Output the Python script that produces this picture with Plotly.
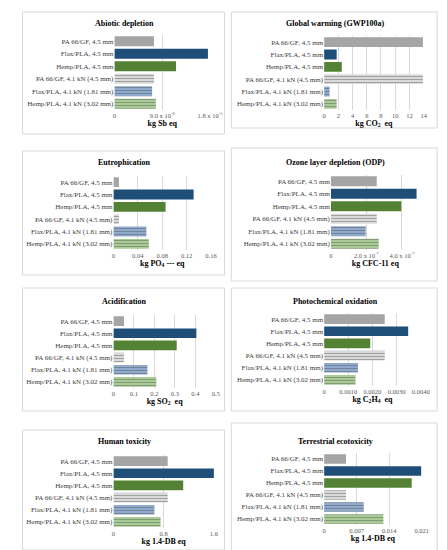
import plotly.graph_objects as go

# Categories (top to bottom)
categories = ["PA 66/GF, 4.5 mm", "Flax/PLA, 4.5 mm", "Hemp/PLA, 4.5 mm",
              "PA 66/GF, 4.1 kN (4.5 mm)", "Flax/PLA, 4.1 kN (1.81 mm)",
              "Hemp/PLA, 4.1 kN (3.02 mm)"]

# Impact values
abiotic = [7.45e-6, 1.76e-5, 1.16e-5, 7.45e-6, 7.1e-6, 7.8e-6]
gwp = [13.9, 1.77, 2.49, 13.9, 0.77, 1.77]
eutro = [0.009, 0.1315, 0.0855, 0.009, 0.054, 0.058]
odp = [2.58e-7, 4.82e-7, 3.96e-7, 2.58e-7, 1.96e-7, 2.69e-7]
acid = [0.052, 0.405, 0.309, 0.052, 0.166, 0.209]
photo = [0.00251, 0.00348, 0.00191, 0.00251, 0.0014, 0.0013]
human = [0.864, 1.6, 1.111, 0.864, 0.653, 0.751]
terr = [0.00471, 0.0209, 0.01885, 0.00471, 0.00853, 0.01275]

# Tick labels
abiotic_ticks = [0, 9.0e-6, 1.8e-5]
abiotic_labels = ["0", "9.0 x 10<sup>-6</sup>", "1.8 x 10<sup>-5</sup>"]
gwp_ticks = [0, 2, 4, 6, 8, 10, 12, 14]
eutro_ticks = [0, 0.04, 0.08, 0.12, 0.16]
odp_ticks = [0, 2.0e-7, 4.0e-7]
odp_labels = ["0", "2.0 x 10<sup>-7</sup>", "4.0 x 10<sup>-7</sup>"]
acid_ticks = [0, 0.1, 0.2, 0.3, 0.4, 0.5]
photo_ticks = [0, 0.001, 0.002, 0.003, 0.004]
photo_labels = ["0", "0.0010", "0.0020", "0.0030", "0.0040"]
human_ticks = [0, 0.8, 1.6]
terr_ticks = [0, 0.007, 0.014, 0.021]

colors = ["#A5A5A5", "#1F4E79", "#548235", "#D9D9D9", "#8FAACC", "#A9CB95"]
patterns = ["", "", "", "-", "-", "-"]

W, H = 447, 550
FONT = "Liberation Serif"


def px(x):
    return x / W


def py(y):
    return 1 - y / H


# title, unit, values, tickvals, ticktext, range, plot box, frame box, title y, title x
panels = [
    ("Abiotic depletion", "kg Sb eq", abiotic, abiotic_ticks, abiotic_labels,
     [0, 1.8e-5], (108, 207, 27, 102), (13, 4, 222, 126), 16, 118),
    ("Global warming (GWP100a)", "kg CO<sub>2</sub>  eq", gwp, gwp_ticks,
     [str(t) for t in gwp_ticks], [0, 14], (325, 428, 28, 102), (229, 4, 442, 120), 16, 337),
    ("Eutrophication", "kg PO<sub>4</sub> --- eq", eutro, eutro_ticks,
     ["0", "0.04", "0.08", "0.12", "0.16"], [0, 0.16], (107, 208, 168, 242), (13, 143, 222, 267), 155, 118),
    ("Ozone layer depletion (ODP)", "kg CFC-11 eq", odp, odp_ticks, odp_labels,
     [0, 5e-7], (332, 424, 167, 242), (229, 140, 442, 273), 155, 337),
    ("Acidification", "kg SO<sub>2</sub>  eq", acid, acid_ticks,
     ["0", "0.1", "0.2", "0.3", "0.4", "0.5"], [0, 0.5], (107, 213, 307, 380), (13, 280, 222, 403), 293, 118),
    ("Photochemical oxidation", "kg C<sub>2</sub>H<sub>4</sub>  eq", photo, photo_ticks,
     photo_labels, [0, 0.004], (325, 425, 305, 378), (229, 280, 442, 403), 293, 337),
    ("Human toxicity", "kg 1.4-DB eq", human, human_ticks, ["0", "0.8", "1.6"],
     [0, 1.6], (107, 211, 447, 520), (13, 422, 222, 542), 433, 118),
    ("Terrestrial ecotoxicity", "kg 1.4-DB eq", terr, terr_ticks,
     ["0", "0.007", "0.014", "0.021"], [0, 0.021], (325, 426, 445, 517), (229, 415, 442, 543), 433, 337),
]

fig = go.Figure()
shapes = []
annotations = []
layout = {}

for i, (title, unit, vals, tv, tt, rng, box, frame, ty, tx) in enumerate(panels, start=1):
    sfx = "" if i == 1 else str(i)
    fig.add_trace(go.Bar(
        x=vals, y=categories, orientation="h",
        xaxis="x" + sfx, yaxis="y" + sfx,
        marker=dict(color=colors, line=dict(width=0),
                    pattern=dict(shape=patterns, fgcolor="#FFFFFF", size=3, solidity=0.25)),
        showlegend=False,
    ))
    x0, x1, y0, y1 = box
    layout["xaxis" + sfx] = dict(
        domain=[px(x0), px(x1)], anchor="y" + sfx, range=rng,
        tickvals=tv, ticktext=tt, showgrid=True, gridcolor="#D9D9D9", gridwidth=1,
        zeroline=False, showline=False, ticks="",
        tickfont=dict(family=FONT, size=6.5, color="#595959"),
        title=dict(text="<b>" + unit + "</b>", font=dict(family=FONT, size=8, color="#000000"),
                   standoff=2),
    )
    layout["yaxis" + sfx] = dict(
        domain=[py(y1), py(y0)], anchor="x" + sfx, autorange="reversed",
        showgrid=False, zeroline=False, showline=False, ticks="",
        tickfont=dict(family=FONT, size=7, color="#404040"),
    )
    fx0, fy0, fx1, fy1 = frame
    shapes.append(dict(type="rect", xref="paper", yref="paper",
                       x0=px(fx0), x1=px(fx1), y0=py(fy1), y1=py(fy0),
                       line=dict(color="#D9D9D9", width=1)))
    annotations.append(dict(text="<b>" + title + "</b>", xref="paper", yref="paper",
                            x=px(tx), y=py(ty), xanchor="center", yanchor="middle",
                            showarrow=False, font=dict(family=FONT, size=8, color="#000000")))

fig.update_layout(
    width=W, height=H, margin=dict(l=0, r=0, t=0, b=0),
    paper_bgcolor="white", plot_bgcolor="white",
    bargap=0.2, shapes=shapes, annotations=annotations,
    **layout,
)

fig.write_html("out.html")
